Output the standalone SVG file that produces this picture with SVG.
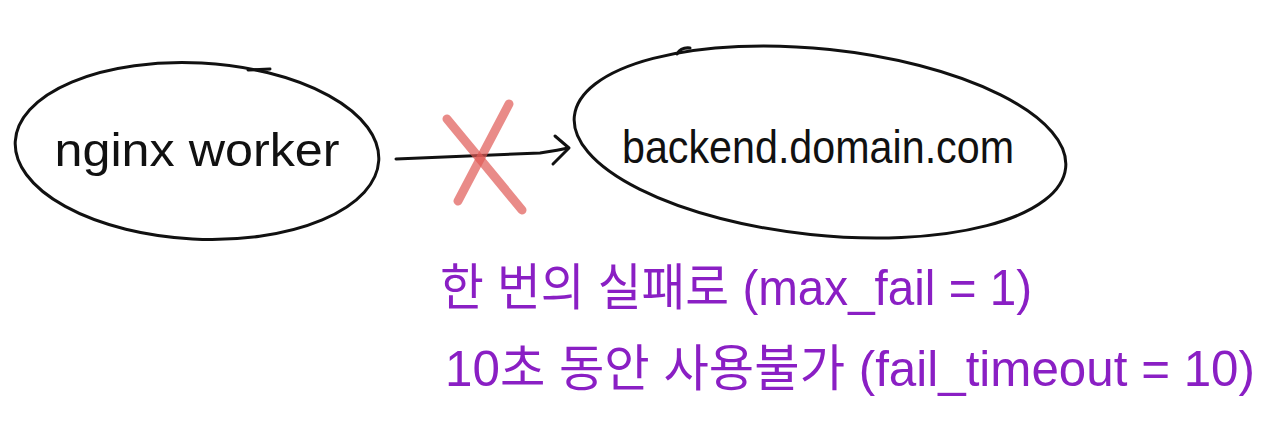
<svg xmlns="http://www.w3.org/2000/svg" width="1280" height="428" viewBox="0 0 1280 428">
<defs>
<style>
.node{fill:none;stroke:#111;stroke-width:3;stroke-linecap:round}
.lbl{font-family:"Liberation Sans","Noto Sans",sans-serif;fill:#111;font-size:46px}
.note{font-family:"Liberation Sans","Noto Sans CJK KR",sans-serif;fill:#8a1fc4;font-size:50px}
.edge{fill:none;stroke:#111;stroke-width:3;stroke-linecap:round;stroke-linejoin:round}
.cross{fill:none;stroke:#e05a55;stroke-width:9;stroke-linecap:round;opacity:0.7}
</style>
</defs>
<rect width="1280" height="428" fill="#fff"/>
<g id="node-nginx">
<ellipse class="node" cx="197" cy="151" rx="182" ry="88" transform="rotate(3 197 151)"/>
<path class="node" d="M248 70 L270 69"/>
<text class="lbl" x="197" y="166" text-anchor="middle" textLength="285" lengthAdjust="spacingAndGlyphs">nginx worker</text>
</g>
<g id="node-backend">
<ellipse class="node" cx="820" cy="142" rx="247" ry="93" transform="rotate(6 820 142)"/>
<path class="node" d="M677 54 Q681 47 690 48"/>
<text class="lbl" x="818" y="163" text-anchor="middle" textLength="392" lengthAdjust="spacingAndGlyphs">backend.domain.com</text>
</g>
<g id="connectors">
<path class="edge" d="M396 159 Q470 156 540 153 Q560 150 568 148"/>
<path class="edge" d="M555 136 L569 148 L553 164"/>
<g id="cross">
<path class="cross" d="M447 119 L522 210"/>
<path class="cross" d="M509 104 L458 201"/>
</g>
</g>
<g id="notes">
<text class="note" x="440" y="305" textLength="592" lengthAdjust="spacingAndGlyphs">한 번의 실패로 (max_fail = 1)</text>
<text class="note" x="445" y="386" textLength="810" lengthAdjust="spacingAndGlyphs">10초 동안 사용불가 (fail_timeout = 10)</text>
</g>
</svg>
